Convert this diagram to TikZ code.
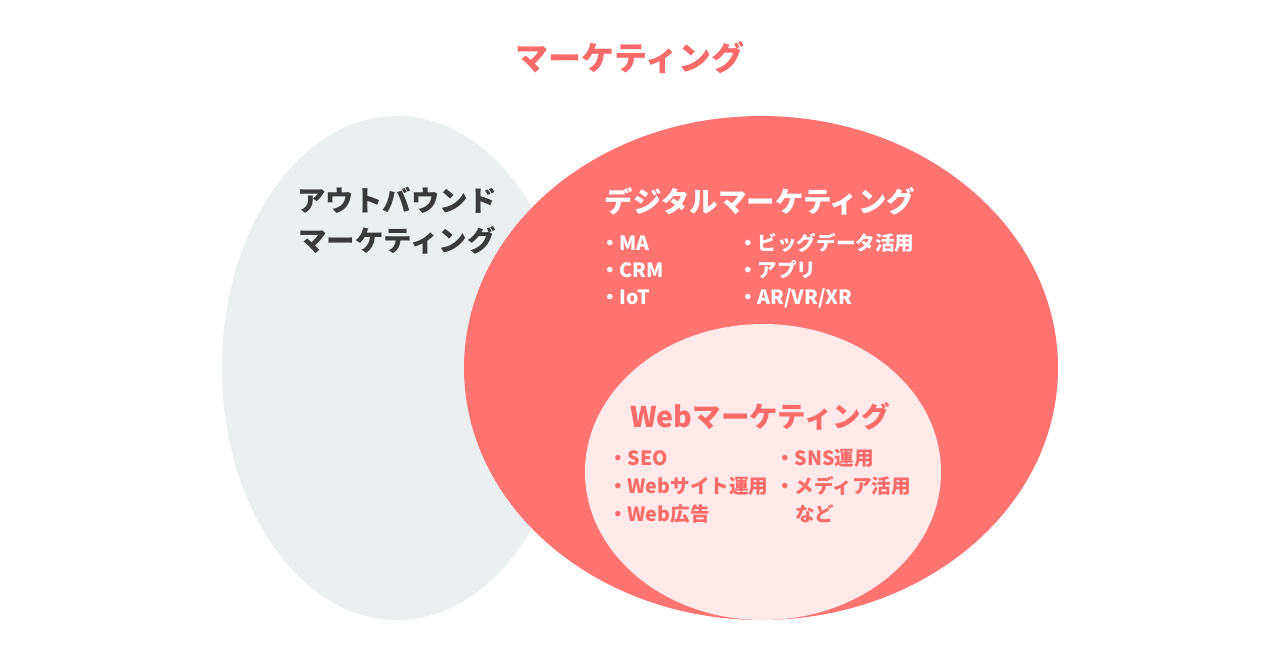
\documentclass[tikz,border=0pt]{standalone}
\usepackage{fontspec}
\setmainfont{Noto Sans CJK JP}
\definecolor{grayfill}{HTML}{ECEFF0}
\definecolor{redfill}{HTML}{FF7371}
\definecolor{pinkfill}{HTML}{FFE9E9}
\definecolor{salmon}{HTML}{F96B6B}
\definecolor{darktext}{HTML}{3A3A3A}
\tikzset{
  every node/.style={inner sep=0pt, outer sep=0pt, font=\bfseries},
  titletxt/.style={font=\fontsize{33}{40}\selectfont\bfseries, text=salmon},
  headtxt/.style={font=\fontsize{28.5}{40}\selectfont\bfseries},
  itemtxt/.style={anchor=west, font=\fontsize{19.6}{28}\selectfont\bfseries, text height=0.8em, text depth=0.2em},
}
\begin{document}
\begin{tikzpicture}[x=1pt,y=-1pt]
\path[use as bounding box, fill=white] (0,0) rectangle (1280,657);
% ellipses
\fill[grayfill] (397,368) ellipse [x radius=175, y radius=252];
\fill[redfill] (761,368) ellipse [x radius=297, y radius=252];
\fill[pinkfill] (763,472) ellipse [x radius=178, y radius=148];
% title
\node[titletxt] (title) at (630,58) {マーケティング};
% outbound
\node[headtxt, text=darktext, align=center] (outbound) at (397,221) {アウトバウンド\\マーケティング};
% digital
\node[headtxt, text=white] (digital) at (760,201) {デジタルマーケティング};
\node[itemtxt, text=white] (d1) at (600,247) {・MA};
\node[itemtxt, text=white] (d2) at (600,274) {・CRM};
\node[itemtxt, text=white] (d3) at (600,301) {・IoT};
\node[itemtxt, text=white] (d4) at (738,247) {・ビッグデータ活用};
\node[itemtxt, text=white] (d5) at (738,274) {・アプリ};
\node[itemtxt, text=white] (d6) at (738,301) {・AR/VR/XR};
% web
\node[headtxt, text=salmon] (web) at (760,416) {Webマーケティング};
\node[itemtxt, text=salmon] (w1) at (608,462) {・SEO};
\node[itemtxt, text=salmon] (w2) at (608,490) {・Webサイト運用};
\node[itemtxt, text=salmon] (w3) at (608,518) {・Web広告};
\node[itemtxt, text=salmon] (w4) at (775,462) {・SNS運用};
\node[itemtxt, text=salmon] (w5) at (775,490) {・メディア活用};
\node[itemtxt, text=salmon] (w6) at (795,518) {など};
\end{tikzpicture}
\end{document}
